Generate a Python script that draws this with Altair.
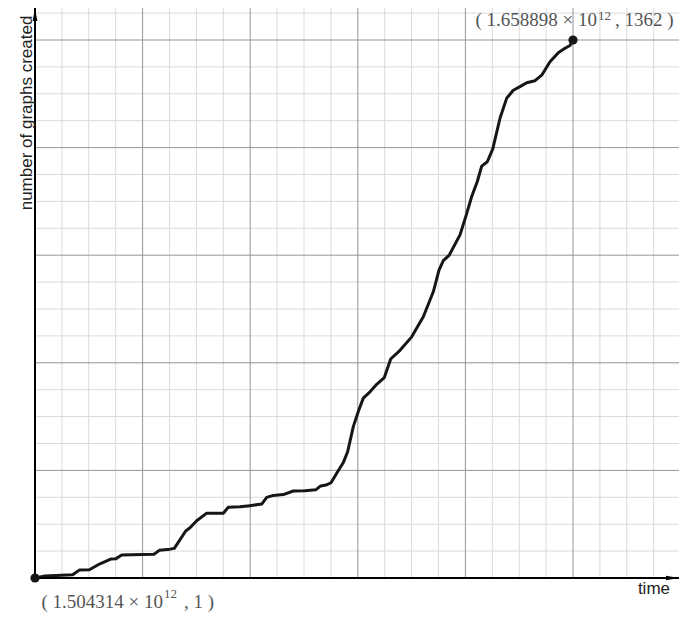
import altair as alt
import pandas as pd

# ---- data (time in ms since epoch, cumulative count) ----
time_ms = [
    1.504314e12, 1.507187e12, 1.511986e12, 1.515146e12, 1.517043e12, 1.519916e12,
    1.522991e12, 1.526065e12, 1.527588e12, 1.529226e12, 1.538506e12, 1.540029e12,
    1.543104e12, 1.544339e12, 1.547615e12, 1.548850e12, 1.550775e12, 1.553649e12,
    1.558418e12, 1.559855e12, 1.563217e12, 1.566090e12, 1.569452e12, 1.570889e12,
    1.572785e12, 1.575658e12, 1.578532e12, 1.581893e12, 1.584968e12, 1.586404e12,
    1.587927e12, 1.589364e12, 1.591002e12, 1.592898e12, 1.594162e12, 1.595771e12,
    1.597208e12, 1.598645e12, 1.600570e12, 1.602495e12, 1.604679e12, 1.606518e12,
    1.609190e12, 1.612552e12, 1.615885e12, 1.618758e12, 1.620396e12, 1.621631e12,
    1.623357e12, 1.626430e12, 1.628154e12, 1.629791e12, 1.631401e12, 1.632665e12,
    1.634274e12, 1.635826e12, 1.637923e12, 1.639848e12, 1.641745e12, 1.643670e12,
    1.645595e12, 1.647980e12, 1.649905e12, 1.652290e12, 1.654675e12, 1.656599e12,
    1.658036e12, 1.658898e12,
]
graphs = [
    1, 6, 8, 9, 21, 22,
    37, 49, 50, 59, 61, 71,
    74, 76, 120, 128, 146, 165,
    165, 180, 181, 184, 188, 205,
    210, 212, 221, 222, 224, 234,
    236, 242, 266, 293, 321, 384,
    422, 456, 472, 491, 508, 555,
    577, 611, 662, 725, 780, 804,
    818, 869, 917, 966, 1004, 1043,
    1054, 1086, 1164, 1215, 1235, 1244,
    1254, 1259, 1273, 1307, 1330, 1341,
    1348, 1362,
]

x_title = "time"
y_title = "number of graphs created"

X0, Y0 = time_ms[0], graphs[0]
X1, Y1 = time_ms[-1], graphs[-1]

# grid: first/last points sit on major lines, 5 majors apart, 4 minors per major
x_major = (X1 - X0) / 5
y_major = (Y1 - Y0) / 5
x_minor = x_major / 4
y_minor = y_major / 4

W, H = 644, 570
PX = 107.6  # pixels per major step
x_max = X0 + (W / PX) * x_major
y_max = Y0 + (H / PX) * y_major

xs = alt.Scale(domain=[X0, x_max], nice=False, zero=False)
ys = alt.Scale(domain=[Y0, y_max], nice=False, zero=False)

curve = pd.DataFrame({"t": time_ms, "n": graphs})
ends = curve.iloc[[0, -1]].reset_index(drop=True)

vminor = pd.DataFrame({"v": [X0 + k * x_minor for k in range(1, 24) if k % 4]})
vmajor = pd.DataFrame({"v": [X0 + k * x_major for k in range(1, 6)]})
hminor = pd.DataFrame({"h": [Y0 + k * y_minor for k in range(1, 22) if k % 4]})
hmajor = pd.DataFrame({"h": [Y0 + k * y_major for k in range(1, 6)]})

minor_col = "#dadada"
major_col = "#959595"

g1 = alt.Chart(vminor).mark_rule(color=minor_col, strokeWidth=1).encode(
    x=alt.X("v:Q", scale=xs, axis=None))
g2 = alt.Chart(hminor).mark_rule(color=minor_col, strokeWidth=1).encode(
    y=alt.Y("h:Q", scale=ys, axis=None))
g3 = alt.Chart(vmajor).mark_rule(color=major_col, strokeWidth=1).encode(
    x=alt.X("v:Q", scale=xs, axis=None))
g4 = alt.Chart(hmajor).mark_rule(color=major_col, strokeWidth=1).encode(
    y=alt.Y("h:Q", scale=ys, axis=None))

axx = alt.Chart(ends).mark_rule(color="#000", strokeWidth=2).encode(
    y=alt.Y("n:Q", scale=ys, axis=None)).transform_filter(alt.datum.n == Y0)
axy = alt.Chart(ends).mark_rule(color="#000", strokeWidth=2).encode(
    x=alt.X("t:Q", scale=xs, axis=None)).transform_filter(alt.datum.t == X0)

arrow_df = pd.DataFrame({"t": [x_max], "n": [Y0]})
arrow_df2 = pd.DataFrame({"t": [X0], "n": [y_max]})
arr_x = alt.Chart(arrow_df).mark_point(
    shape="M-1,-0.36L1,0L-1,0.36Z", filled=True, opacity=1, color="#000",
    size=169, xOffset=-6.5).encode(
    x=alt.X("t:Q", scale=xs, axis=None), y=alt.Y("n:Q", scale=ys, axis=None))
arr_y = alt.Chart(arrow_df2).mark_point(
    shape="M-0.36,1L0,-1L0.36,1Z", filled=True, opacity=1, color="#000",
    size=169, yOffset=6.5).encode(
    x=alt.X("t:Q", scale=xs, axis=None), y=alt.Y("n:Q", scale=ys, axis=None))

line = alt.Chart(curve).mark_line(
    color="#161616", strokeWidth=3, interpolate="linear",
    strokeJoin="round", strokeCap="round").encode(
    x=alt.X("t:Q", scale=xs, axis=None), y=alt.Y("n:Q", scale=ys, axis=None))

dots = alt.Chart(ends).mark_circle(size=85, color="#161616", opacity=1).encode(
    x=alt.X("t:Q", scale=xs, axis=None), y=alt.Y("n:Q", scale=ys, axis=None))

lab_font = "Liberation Serif"
lab_col = "#555555"


def point_label(row, dx_a, dy_a, dx_s, dy_s, dx_b):
    d = pd.DataFrame({
        "t": [row["t"]], "n": [row["n"]],
        "a": [f"( {row['t'] / 1e12:.6f} \u00d7 10"],
        "s": ["12"],
        "b": [f", {int(row['n'])} )"],
    })
    enc = dict(x=alt.X("t:Q", scale=xs, axis=None), y=alt.Y("n:Q", scale=ys, axis=None))
    ta = alt.Chart(d).mark_text(font=lab_font, fontSize=19, color=lab_col,
                                align="right", baseline="alphabetic",
                                dx=dx_a, dy=dy_a).encode(text="a:N", **enc)
    ts = alt.Chart(d).mark_text(font=lab_font, fontSize=13, color=lab_col,
                                align="left", baseline="alphabetic",
                                dx=dx_s, dy=dy_s).encode(text="s:N", **enc)
    tb = alt.Chart(d).mark_text(font=lab_font, fontSize=19, color=lab_col,
                                align="left", baseline="alphabetic",
                                dx=dx_b, dy=dy_a).encode(text="b:N", **enc)
    return ta + ts + tb


lab1 = point_label(ends.iloc[0], 128, 30, 129, 20, 149)
lab2 = point_label(ends.iloc[1], 24, -14, 25, -20, 42)

tdf = pd.DataFrame({"t": [x_max], "n": [Y0], "label": [x_title]})
xt = alt.Chart(tdf).mark_text(font="Liberation Sans", fontSize=17, color="#222",
                              align="right", baseline="alphabetic", dx=-9, dy=16).encode(
    x=alt.X("t:Q", scale=xs, axis=None), y=alt.Y("n:Q", scale=ys, axis=None),
    text="label:N")

ytdf = pd.DataFrame({"label": [y_title]})
yt = alt.Chart(ytdf).mark_text(font="Liberation Sans", fontSize=17, color="#222",
                               align="center", baseline="alphabetic", angle=270).encode(
    x=alt.value(-3), y=alt.value(105), text="label:N")

chart = alt.layer(
    g1, g2, g3, g4, line, axx, axy, arr_x, arr_y, dots, lab1, lab2, xt, yt
).properties(
    width=W, height=H,
    autosize=alt.AutoSizeParams(type="none"),
    padding={"left": 27, "top": 0, "right": 0, "bottom": 36},
    background="white",
).configure_view(stroke=None)

chart.save("out.html", embed_options={"renderer": "svg", "actions": False})
